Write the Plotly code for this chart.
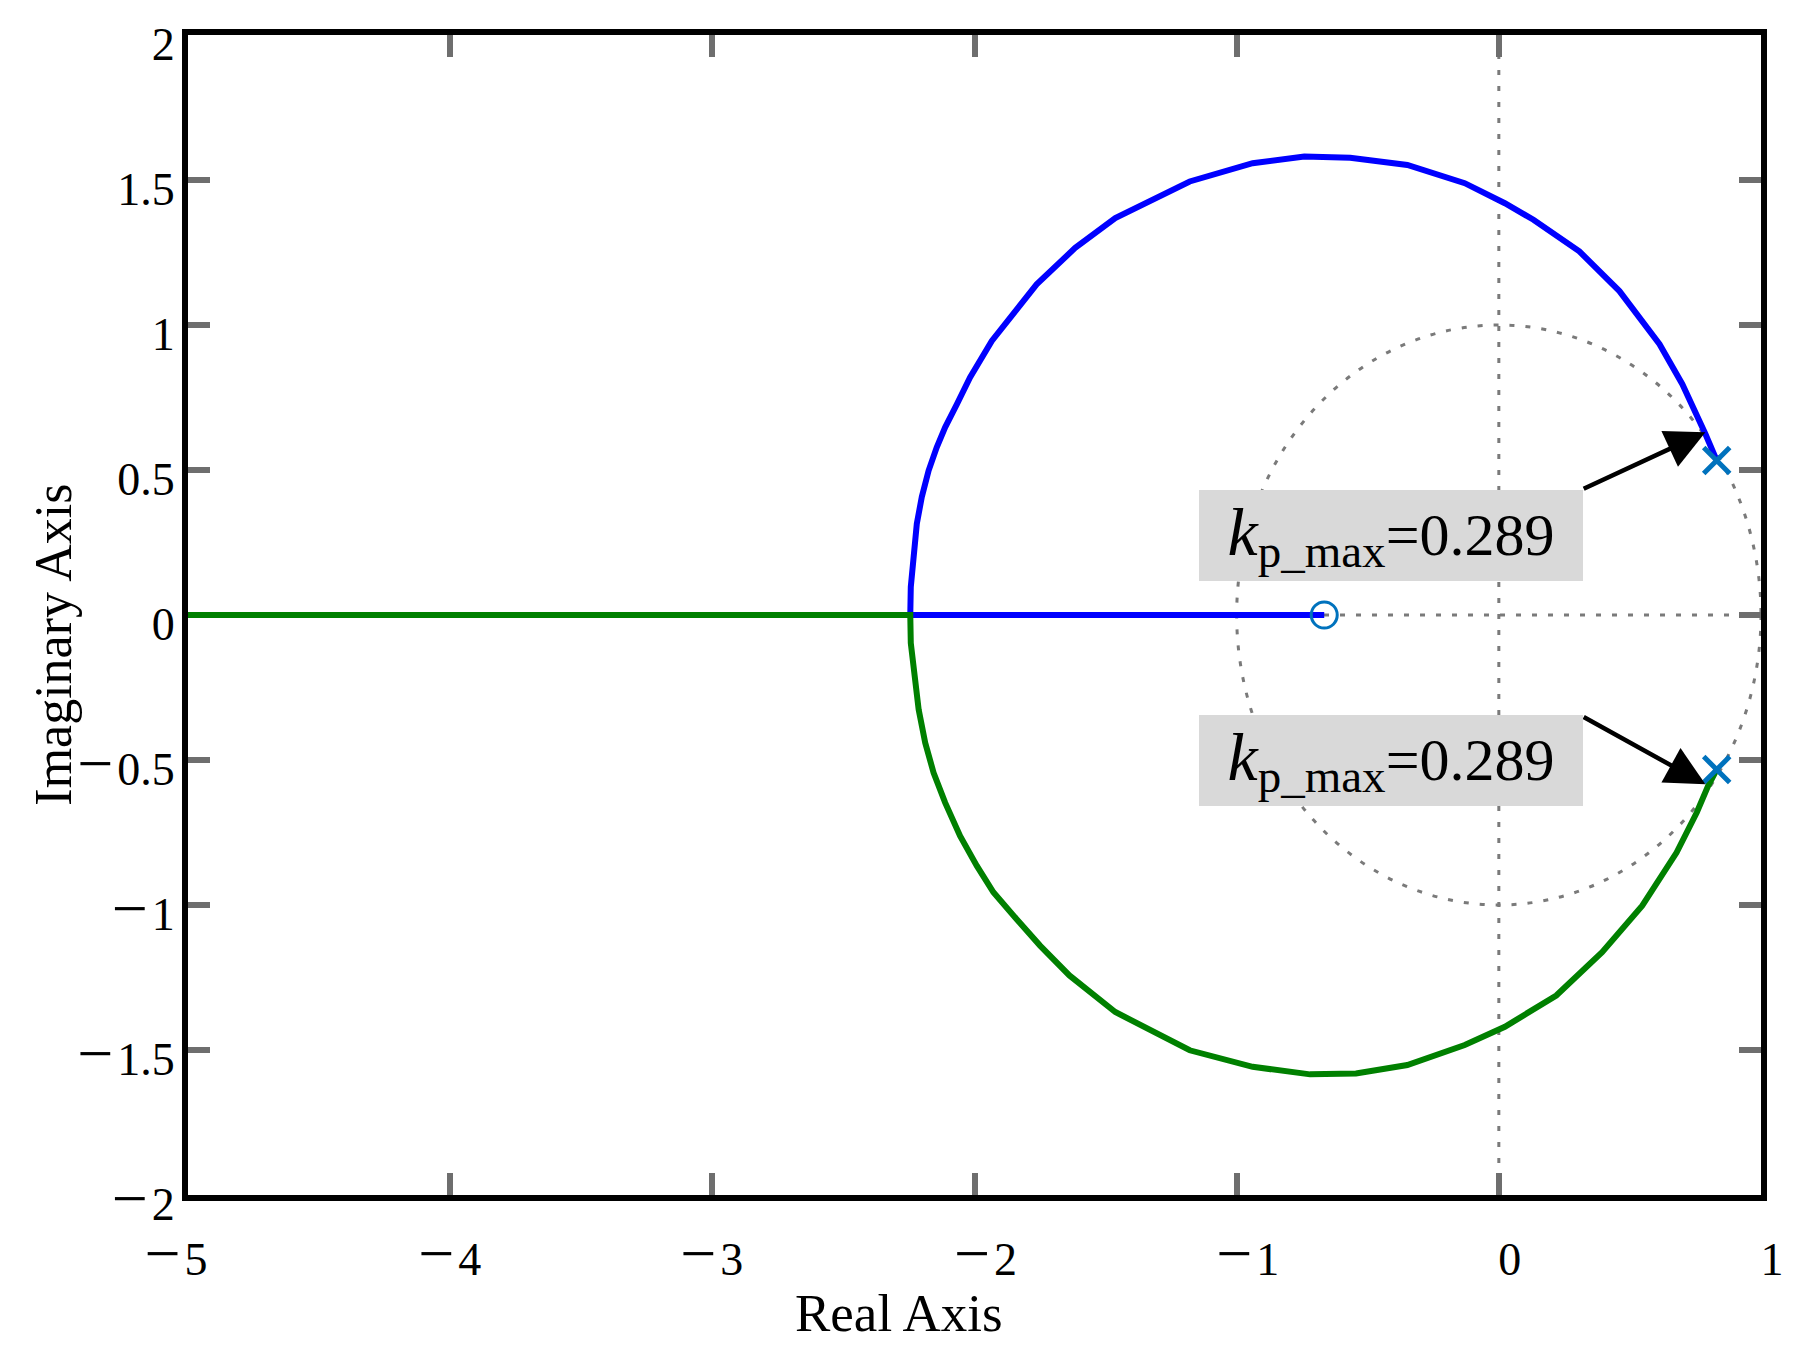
import plotly.graph_objects as go

# root locus branches (real part, imaginary part)
blue_re = [-0.666, -2.245, -2.243, -2.233, -2.220, -2.201, -2.175, -2.144, -2.112, -2.067,
           -2.017, -1.934, -1.852, -1.763, -1.616, -1.463, -1.179, -0.939, -0.742,
           -0.567, -0.349, -0.130, 0.023, 0.132, 0.307, 0.460, 0.613, 0.700, 0.788, 0.831]
blue_im = [0.0, 0.0, 0.097, 0.212, 0.315, 0.407, 0.498, 0.578, 0.647, 0.727,
           0.819, 0.945, 1.037, 1.140, 1.266, 1.369, 1.495, 1.558, 1.581,
           1.577, 1.552, 1.489, 1.420, 1.363, 1.254, 1.117, 0.934, 0.796, 0.624, 0.533]

green_re = [-5.0, -2.245, -2.243, -2.230, -2.213, -2.188, -2.156, -2.112, -2.055, -1.991,
            -1.928, -1.840, -1.750, -1.638, -1.463, -1.179, -0.939, -0.720, -0.545,
            -0.349, -0.130, 0.023, 0.219, 0.394, 0.547, 0.678, 0.755, 0.798, 0.831]
green_im = [0.0, 0.0, -0.097, -0.212, -0.326, -0.441, -0.544, -0.647, -0.762, -0.865,
            -0.956, -1.048, -1.140, -1.243, -1.369, -1.501, -1.558, -1.584, -1.581,
            -1.552, -1.483, -1.420, -1.312, -1.163, -1.002, -0.819, -0.681, -0.590, -0.533]

pole_re = [0.831, 0.831]
pole_im = [0.533, -0.533]
zero_re = [-0.666]
zero_im = [0.0]

# where the two arrows point (gain k_p_max on each branch)
kmax_re = [0.788, 0.788]
kmax_im = [0.630, -0.584]
kmax_value = 0.289

MINUS = '<span style="font-size:64px">\u2212</span>\u200a'
EN = "\u2002"  # trailing en spaces nudge a few labels left, as in the original
x_ticks = [-5, -4, -3, -2, -1, 0, 1]
x_labels = [MINUS + "5" + EN + EN, MINUS + "4" + EN, MINUS + "3" + EN,
            MINUS + "2", MINUS + "1", "0", "1"]
y_ticks = [-2, -1.5, -1, -0.5, 0, 0.5, 1, 1.5, 2]
y_labels = [MINUS + "2", MINUS + "1.5", MINUS + "1", MINUS + "0.5", "0", "0.5", "1", "1.5", "2"]

serif = "Liberation Serif"
mat_blue = "#0072BD"

fig = go.Figure()

fig.add_trace(go.Scatter(x=blue_re, y=blue_im, mode="lines",
                         line=dict(color="#0000ff", width=6), hoverinfo="skip"))
fig.add_trace(go.Scatter(x=green_re, y=green_im, mode="lines",
                         line=dict(color="#008000", width=6), hoverinfo="skip"))
fig.add_trace(go.Scatter(x=zero_re, y=zero_im, mode="markers",
                         marker=dict(symbol="circle-open", size=26, color=mat_blue,
                                     line=dict(width=3, color=mat_blue))))
fig.add_trace(go.Scatter(x=pole_re, y=pole_im, mode="markers",
                         marker=dict(symbol="x-thin-open", size=26, color=mat_blue,
                                     line=dict(width=5, color=mat_blue))))

# unit circle and the axes through the origin, dotted grey
dot = dict(color="#7a7a7a", width=3, dash="5px,11px")
fig.add_shape(type="line", x0=0, x1=0, y0=-2, y1=2, line=dot, layer="below")
fig.add_shape(type="line", x0=-5, x1=1, y0=0, y1=0, line=dot, layer="below")
fig.add_shape(type="circle", x0=-1, x1=1, y0=-1, y1=1, line=dot, layer="below")

label = ('<i><span style="font-size:68px">k</span></i>'
         '<sub><span style="font-size:47px">p_max</span></sub>'
         '=' + f"{kmax_value:.3f}")

box_centres = [(-0.413, 0.275), (-0.413, -0.503)]
tails = [(0.318, 0.433), (0.318, -0.349)]

for (bx, by), (tx, ty), px_, py_ in zip(box_centres, tails, kmax_re, kmax_im):
    fig.add_annotation(x=px_, y=py_, ax=tx, ay=ty, axref="x", ayref="y",
                       text="", showarrow=True, arrowhead=2, arrowsize=1.75,
                       arrowwidth=4.5, arrowcolor="black", standoff=0, startstandoff=0)
    fig.add_annotation(x=bx, y=by, text=label, showarrow=False,
                       width=384, height=91, bgcolor="#d9d9d9", borderpad=0,
                       borderwidth=0, align="center", valign="middle",
                       font=dict(family=serif, size=60, color="black"))

fig.add_annotation(text="Real Axis", xref="paper", yref="paper", x=0.452, y=-0.1014,
                   xanchor="center", yanchor="middle", showarrow=False,
                   font=dict(family=serif, size=53, color="black"))
fig.add_annotation(text="Imaginary Axis", xref="paper", yref="paper", x=-0.0855, y=0.474,
                   xanchor="center", yanchor="middle", showarrow=False, textangle=-90,
                   font=dict(family=serif, size=52, color="black"))

axis_style = dict(showline=True, linecolor="black", linewidth=6, mirror="allticks",
                  ticks="inside", ticklen=22, tickwidth=6, tickcolor="#6e6e6e",
                  showgrid=False, zeroline=False, layer="below traces",
                  tickfont=dict(family=serif, size=46, color="black"))

fig.update_xaxes(range=[-5, 1], tickvals=x_ticks, ticktext=x_labels,
                 ticklabelstandoff=19, ticklabelshift=11, **axis_style)
fig.update_yaxes(range=[-2, 2], tickvals=y_ticks, ticktext=y_labels,
                 ticklabelstandoff=-2, ticklabelshift=9, **axis_style)

# the page body keeps an 8px margin, so the figure is 8px smaller than the window
fig.update_layout(
    width=1792, height=1353,
    margin=dict(l=179.5, r=38.5, t=26.5, b=165.5, pad=0),
    paper_bgcolor="white", plot_bgcolor="white",
    showlegend=False,
    font=dict(family=serif, size=46, color="black"),
)

fig.write_html("out.html")
